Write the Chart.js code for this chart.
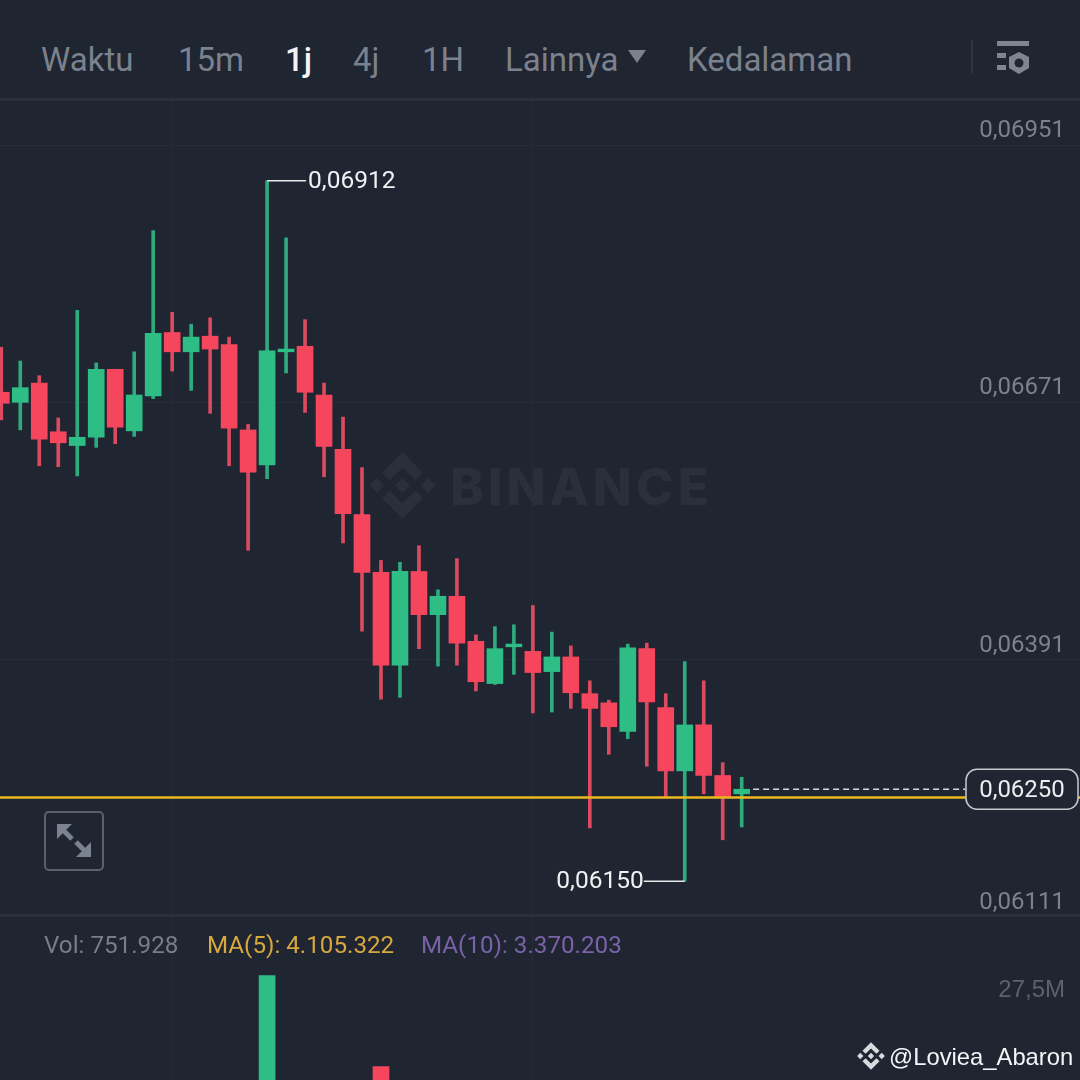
<!DOCTYPE html>
<html>
<head>
<meta charset="utf-8">
<title>Candles</title>
<script src="https://cdn.jsdelivr.net/npm/chart.js@4/dist/chart.umd.min.js"></script>
<style>
  html, body { margin: 0; padding: 0; background: #1f2531; }
  #page { position: relative; width: 1080px; height: 1080px; overflow: hidden; background: #1f2531; font-family: Roboto, sans-serif; }
  canvas { position: absolute; left: 0; z-index: 1; }
  #priceChart { top: 100px; }
  #volChart { top: 917px; }
  .tab { position: absolute; top: 41px; font-size: 33px; line-height: 38px; color: #7b818d; z-index: 2; white-space: nowrap; }
  .tab.on { color: #f2f3f5; font-weight: 500; }
  .rule { position: absolute; left: 0; width: 1080px; height: 3px; background: #2b313c; z-index: 2; }
  .leg { position: absolute; top: 931px; font-size: 24.2px; line-height: 28px; z-index: 2; white-space: nowrap; }
  #mark { position: absolute; left: 450px; top: 456px; font: 800 51px Inter, sans-serif; letter-spacing: 4px; color: #2a303b; z-index: 0; }
  #author { position: absolute; left: 889px; top: 1041px; font: 23.8px "Liberation Sans", sans-serif; line-height: 32px; color: #f4f5f6; z-index: 2; white-space: nowrap; }
  svg { position: absolute; z-index: 2; }
</style>
</head>
<body>
<div id="page">
  <div class="tab" style="left:41px">Waktu</div>
  <div class="tab" style="left:178px">15m</div>
  <div class="tab on" style="left:285px">1j</div>
  <div class="tab" style="left:353px">4j</div>
  <div class="tab" style="left:422px">1H</div>
  <div class="tab" style="left:505px">Lainnya</div>
  <div class="tab" style="left:687px">Kedalaman</div>
  <svg style="left:0;top:0" width="1080" height="100">
    <polygon points="628,50 646,50 637,63" fill="#7b818d"/>
    <rect x="971" y="40" width="2" height="33" fill="#2f3540"/>
    <rect x="997" y="41" width="32" height="5" fill="#7f8591"/>
    <rect x="997" y="53" width="9" height="5" fill="#7f8591"/>
    <rect x="997" y="65" width="9" height="5" fill="#7f8591"/>
    <polygon points="1019,52 1029,57 1029,68 1019,74 1009,68 1009,57" fill="#7f8591"/>
    <circle cx="1019" cy="63" r="4.5" fill="#1f2531"/>
  </svg>
  <div class="rule" style="top:98px"></div>
  <div class="rule" style="top:914px"></div>

  <svg style="left:368px;top:452px;z-index:0" width="69" height="67" viewBox="0 0 126 126" fill="#2a303b"><use href="#bnb"/></svg>
  <div id="mark">BINANCE</div>

  <canvas id="priceChart" width="1080" height="817"></canvas>
  <canvas id="volChart" width="1080" height="163"></canvas>

  <svg style="left:44px;top:811px" width="60" height="60">
    <rect x="1" y="1" width="58" height="58" rx="4" fill="none" stroke="#5b616c" stroke-width="2"/>
    <polygon points="13,13 28,13 13,28" fill="#7c8290"/>
    <line x1="18" y1="18" x2="28" y2="28" stroke="#7c8290" stroke-width="5"/>
    <polygon points="47,46 32,46 47,31" fill="#7c8290"/>
    <line x1="42" y1="41" x2="32" y2="31" stroke="#7c8290" stroke-width="5"/>
  </svg>

  <div class="leg" style="left:44px;color:#777d89">Vol: 751.928</div>
  <div class="leg" style="left:207px;color:#d6a83e">MA(5): 4.105.322</div>
  <div class="leg" style="left:421px;color:#7a62a8">MA(10): 3.370.203</div>

  <svg style="left:857px;top:1042px" width="28" height="28" viewBox="0 0 126 126" fill="#d8dade"><use href="#bnb"/></svg>
  <div id="author">@Loviea_Abaron</div>

  <svg width="0" height="0" style="position:absolute">
    <symbol id="bnb" viewBox="0 0 126 126">
      <path d="M38.73 53.2L63 28.93l24.28 24.28 14.12-14.12L63 .69 24.61 39.08z"/>
      <path d="M.69 63l14.12-14.12L28.93 63 14.81 77.12z"/>
      <path d="M38.73 72.8L63 97.07l24.28-24.28 14.12 14.12L63 125.31 24.61 86.92z"/>
      <path d="M97.07 63l14.12-14.12L125.31 63l-14.12 14.12z"/>
      <path d="M77.32 63L63 48.68 48.68 63 63 77.32z"/>
    </symbol>
  </svg>
</div>

<script>
// candle slots, one per bar, left to right
const slots = [0,1,2,3,4,5,6,7,8,9,10,11,12,13,14,15,16,17,18,19,20,21,22,23,24,25,26,27,28,29,30,31,32,33,34,35,36,37,38,39];

const opens  = [0.06682,0.06671,0.06692,0.06639,0.06624,0.06633,0.06707,0.06640,0.06678,0.06747,
                0.06726,0.06743,0.06734,0.06641,0.06603,0.06726,0.06732,0.06679,0.06620,0.06549,
                0.06486,0.06385,0.06487,0.06440,0.06460,0.06411,0.06365,0.06405,0.06400,0.06378,
                0.06394,0.06354,0.06344,0.06313,0.06403,0.06339,0.06270,0.06320,0.06265,0.06245];
const highs  = [0.06731,0.06716,0.06700,0.06654,0.06771,0.06714,0.06707,0.06726,0.06858,0.06769,
                0.06756,0.06763,0.06742,0.06647,0.06912,0.06850,0.06761,0.06692,0.06655,0.06600,
                0.06499,0.06497,0.06515,0.06467,0.06501,0.06418,0.06427,0.06429,0.06450,0.06421,
                0.06406,0.06368,0.06347,0.06408,0.06409,0.06354,0.06389,0.06368,0.06279,0.06263];
const lows   = [0.06652,0.06641,0.06602,0.06601,0.06591,0.06622,0.06626,0.06634,0.06675,0.06705,
                0.06684,0.06659,0.06602,0.06510,0.06588,0.06703,0.06660,0.06590,0.06518,0.06422,
                0.06348,0.06350,0.06403,0.06384,0.06385,0.06357,0.06364,0.06375,0.06333,0.06334,
                0.06338,0.06208,0.06288,0.06305,0.06275,0.06242,0.06150,0.06245,0.06195,0.06209];
const closes = [0.06670,0.06687,0.06631,0.06627,0.06633,0.06707,0.06644,0.06679,0.06746,0.06726,
                0.06742,0.06729,0.06643,0.06595,0.06727,0.06729,0.06682,0.06623,0.06550,0.06486,
                0.06385,0.06487,0.06440,0.06460,0.06409,0.06367,0.06403,0.06408,0.06377,0.06394,
                0.06355,0.06338,0.06318,0.06404,0.06345,0.06270,0.06320,0.06265,0.06242,0.06250];

// only these two volume bars reach into the cropped picture
const volumes = [null,null,null,null,null,null,null,null,null,null,
                 null,null,null,null,30200000,null,null,null,null,null,
                 21700000,null,null,null,null,null,null,null,null,null,
                 null,null,null,null,null,null,null,null,null,null];

const priceTicks = [0.06951, 0.06671, 0.06391, 0.06111];
const volTicks = [27500000];
const gridSlots = [9, 28];

const lastPrice = 0.06250;
const refLine = 0.06241; // yellow line

const GREEN = "#2ebd85";
const RED = "#f6465d";
const GREEN_WICK = "#2eaa7e";
const RED_WICK = "#dc4a60";
const GRID = "#272d38";
const BG = "#1f2531";

const isUp = (i) => closes[i] >= opens[i];
const fmtPrice = (v) => v.toFixed(5).replace(".", ",");

// mirrored labels sit on top of the plot, so the y axis should take no room at all
const flattenAxis = (axis) => {
    axis.width = 0;
    axis.paddingTop = 0;
    axis.paddingBottom = 0;
};

// same x range on both panels so the candles line up with the volume
const makeXAxis = () => ({
    type: "linear",
    min: -0.0685,
    max: 56.82,
    offset: false,
    afterBuildTicks: (axis) => { axis.ticks = gridSlots.map((v) => ({value: v})); },
    ticks: {display: false},
    grid: {color: GRID, lineWidth: 1, drawTicks: false, offset: false},
    border: {display: false}
});

// high / low callouts and the last price box
const labelsPlugin = {
    id: "priceLabels",
    afterDatasetsDraw(chart) {
        const {ctx, scales: {x, y}} = chart;
        const hi = Math.max(...highs), lo = Math.min(...lows);
        const hx = x.getPixelForValue(highs.indexOf(hi)), hy = y.getPixelForValue(hi);
        const lx = x.getPixelForValue(lows.indexOf(lo)), ly = y.getPixelForValue(lo);

        ctx.save();
        ctx.strokeStyle = "#e6e8ea";
        ctx.lineWidth = 1.5;
        ctx.beginPath();
        ctx.moveTo(hx, hy); ctx.lineTo(hx + 39, hy);
        ctx.moveTo(lx, ly); ctx.lineTo(lx - 41, ly);
        ctx.stroke();

        ctx.fillStyle = "#f0f1f3";
        ctx.font = "24.5px Roboto";
        ctx.textBaseline = "middle";
        ctx.textAlign = "left";
        ctx.fillText(fmtPrice(hi), hx + 41, hy + 1);
        ctx.textAlign = "right";
        ctx.fillText(fmtPrice(lo), lx - 41, ly + 1);

        const by = y.getPixelForValue(lastPrice);
        ctx.beginPath();
        ctx.roundRect(966, by - 20, 112, 40, 11);
        ctx.fillStyle = BG;
        ctx.fill();
        ctx.strokeStyle = "#c5c9ce";
        ctx.lineWidth = 1.5;
        ctx.stroke();
        ctx.fillStyle = "#eceef0";
        ctx.font = "24px Roboto";
        ctx.textAlign = "center";
        ctx.fillText(fmtPrice(lastPrice), 1022, by + 2);
        ctx.restore();
    }
};

new Chart(document.getElementById("priceChart"), {
    type: "bar",
    data: {
        datasets: [
            {
                type: "line",
                data: [{x: -1, y: refLine}, {x: 60, y: refLine}],
                borderColor: "#eab91e",
                borderWidth: 2.5,
                pointRadius: 0,
                order: 0
            },
            {
                type: "line",
                data: [{x: 39.6, y: lastPrice}, {x: 50.8, y: lastPrice}],
                borderColor: "#d5d8dc",
                borderWidth: 1.5,
                borderDash: [6, 4],
                pointRadius: 0,
                order: 0
            },
            {
                data: slots.map((s, i) => ({x: s, y: [opens[i], closes[i]]})),
                backgroundColor: slots.map((s, i) => isUp(i) ? GREEN : RED),
                barThickness: 16,
                grouped: false,
                order: 1
            },
            {
                data: slots.map((s, i) => ({x: s, y: [lows[i], highs[i]]})),
                backgroundColor: slots.map((s, i) => isUp(i) ? GREEN_WICK : RED_WICK),
                barThickness: 3,
                grouped: false,
                order: 2
            }
        ]
    },
    options: {
        responsive: false,
        animation: false,
        layout: {padding: 0},
        plugins: {legend: {display: false}, tooltip: {enabled: false}},
        scales: {
            x: makeXAxis(),
            y: {
                position: "right",
                min: 0.06111,
                max: 0.07000,
                afterBuildTicks: (axis) => { axis.ticks = priceTicks.map((v) => ({value: v})); },
                afterFit: flattenAxis,
                ticks: {
                    mirror: true,
                    padding: -15,
                    labelOffset: -14,
                    autoSkip: false,
                    color: "#7b818d",
                    font: {family: "Roboto", size: 24},
                    callback: (v) => fmtPrice(v)
                },
                grid: {color: GRID, lineWidth: 1, drawTicks: false},
                border: {display: false}
            }
        }
    },
    plugins: [labelsPlugin]
});

new Chart(document.getElementById("volChart"), {
    type: "bar",
    data: {
        datasets: [{
            data: slots.map((s, i) => ({x: s, y: volumes[i]})),
            backgroundColor: slots.map((s, i) => isUp(i) ? GREEN : RED),
            barThickness: 16,
            grouped: false
        }]
    },
    options: {
        responsive: false,
        animation: false,
        layout: {padding: 0},
        plugins: {legend: {display: false}, tooltip: {enabled: false}},
        scales: {
            x: makeXAxis(),
            y: {
                position: "right",
                min: 20440000,
                max: 35680000,
                afterBuildTicks: (axis) => { axis.ticks = volTicks.map((v) => ({value: v})); },
                afterFit: flattenAxis,
                ticks: {
                    mirror: true,
                    padding: -15,
                    labelOffset: -14,
                    autoSkip: false,
                    color: "#5b616d",
                    font: {family: "Liberation Sans", size: 24},
                    callback: (v) => (v / 1000000).toFixed(1).replace(".", ",") + "M"
                },
                grid: {display: false},
                border: {display: false}
            }
        }
    }
});
</script>
</body>
</html>
